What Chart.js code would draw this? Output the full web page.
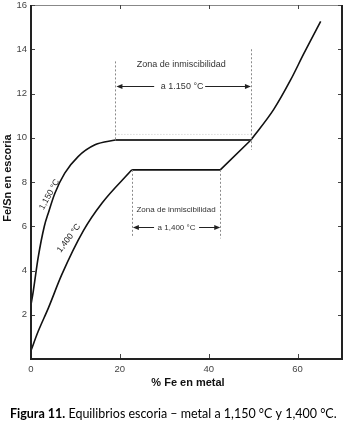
<!DOCTYPE html>
<html>
<head>
<meta charset="utf-8">
<script src="https://cdn.jsdelivr.net/npm/chart.js@4/dist/chart.umd.min.js"></script>
<style>
  html, body { margin: 0; padding: 0; background: #fff; }
  #wrap { position: relative; width: 346px; height: 423px; }
</style>
</head>
<body>
<div id="wrap"><canvas id="chart"></canvas></div>
<script>
// curva a 1.150 °C (subida hasta la meseta)
const x1150 = [0, 0.5, 1.6, 3.0, 3.9, 5.4, 7.6, 10.6, 14.4, 19]
const y1150 = [2.45, 3.05, 4.57, 6.0, 6.6, 7.5, 8.4, 9.15, 9.68, 9.9]
// meseta 1.150 °C
const xPlateau1150 = [19, 49.5]
const yPlateau1150 = [9.9, 9.9]
const yDotted1150 = [10.15, 10.15]
// tramo común final
const xUpper = [49.5, 54.6, 58.4, 61.4, 65.2]
const yUpper = [9.9, 11.27, 12.6, 13.8, 15.26]
// curva a 1.400 °C
const x1400 = [0, 1.6, 3.9, 6.9, 11.8, 16, 22.7]
const y1400 = [0.38, 1.24, 2.3, 3.8, 5.8, 7.05, 8.55]
const xPlateau1400 = [22.7, 42.6, 49.5]
const yPlateau1400 = [8.55, 8.55, 9.9]

const xTicks = [0, 20, 40, 60]
const yTicks = [2, 4, 6, 8, 10, 12, 14, 16]

// zonas de inmiscibilidad: límites en x, alto de las guías y del rótulo
const zone1150X = [19, 49.5]
const zone1150Top = [13.45, 14.0]
const zone1150Bottom = [9.9, 9.45]
const zone1150Arrow = 12.35
const zone1400X = [22.7, 42.6]
const zone1400Bottom = [5.5, 5.45]
const zone1400Arrow = 5.97

const pts = (xs, ys) => xs.map((x, i) => ({ x, y: ys[i] }))

const ARIAL = '"Liberation Sans", Arial, sans-serif'

function arrow(ctx, x1, x2, y) {
  // línea con punta en x2
  const dir = Math.sign(x2 - x1)
  ctx.beginPath()
  ctx.moveTo(x1, y)
  ctx.lineTo(x2 - dir * 4, y)
  ctx.stroke()
  ctx.beginPath()
  ctx.moveTo(x2, y)
  ctx.lineTo(x2 - dir * 6, y - 2.5)
  ctx.lineTo(x2 - dir * 6, y + 2.5)
  ctx.closePath()
  ctx.fill()
}

const decor = {
  id: "decor",
  afterDraw(chart) {
    const { ctx, chartArea: a, scales: { x, y } } = chart
    ctx.save()

    // guías verticales discontinuas
    ctx.strokeStyle = "#8a8a8a"
    ctx.lineWidth = 1
    ctx.setLineDash([2, 2])
    zone1150X.forEach((v, i) => {
      const px = Math.round(x.getPixelForValue(v)) + 0.5
      ctx.beginPath()
      ctx.moveTo(px, y.getPixelForValue(zone1150Top[i]))
      ctx.lineTo(px, y.getPixelForValue(zone1150Bottom[i]))
      ctx.stroke()
    })
    zone1400X.forEach((v, i) => {
      const px = Math.round(x.getPixelForValue(v)) + 0.5
      ctx.beginPath()
      ctx.moveTo(px, y.getPixelForValue(8.55))
      ctx.lineTo(px, y.getPixelForValue(zone1400Bottom[i]))
      ctx.stroke()
    })
    ctx.setLineDash([])

    // flechas y rótulos
    ctx.strokeStyle = "#222"
    ctx.fillStyle = "#222"
    ctx.lineWidth = 1
    let l = x.getPixelForValue(zone1150X[0]), r = x.getPixelForValue(zone1150X[1])
    let yy = Math.round(y.getPixelForValue(zone1150Arrow)) + 0.5
    let cx = (l + r) / 2
    arrow(ctx, cx - 29, l + 1, yy)
    arrow(ctx, cx + 22, r, yy)
    ctx.fillStyle = "#333"
    ctx.textAlign = "center"
    ctx.textBaseline = "middle"
    ctx.font = "9px " + ARIAL
    ctx.fillText("Zona de inmiscibilidad", cx - 2, yy - 21.5)
    ctx.fillText("a 1.150 °C", cx - 1, yy)

    l = x.getPixelForValue(zone1400X[0]); r = x.getPixelForValue(zone1400X[1])
    yy = Math.round(y.getPixelForValue(zone1400Arrow)) + 0.5
    cx = (l + r) / 2
    ctx.fillStyle = "#222"
    arrow(ctx, cx - 22, l + 1, yy)
    arrow(ctx, cx + 23, r, yy)
    ctx.fillStyle = "#333"
    ctx.font = "8px " + ARIAL
    ctx.fillText("Zona de inmiscibilidad", cx, yy - 17.5)
    ctx.fillText("a 1,400 °C", cx + 0.5, yy)

    // rótulos de las curvas, por encima de cada curva
    ctx.font = "8.5px " + ARIAL
    ctx.fillStyle = "#222"
    ctx.textBaseline = "alphabetic"
    ;[["1,150 °C", 5.0, 7.34, -61], ["1,400 °C", 9.3, 5.34, -53]].forEach(([t, vx, vy, ang]) => {
      ctx.save()
      ctx.translate(x.getPixelForValue(vx), y.getPixelForValue(vy))
      ctx.rotate(ang * Math.PI / 180)
      ctx.fillText(t, 0, -2)
      ctx.restore()
    })
    ctx.textBaseline = "middle"

    // marco
    ctx.strokeStyle = "#888"
    ctx.lineWidth = 1
    ctx.beginPath()
    ctx.moveTo(a.left, a.top + 0.5)
    ctx.lineTo(a.right, a.top + 0.5)
    ctx.stroke()
    ctx.strokeStyle = "#222"
    ctx.lineWidth = 2
    ctx.beginPath()
    ctx.moveTo(a.left, a.top)
    ctx.lineTo(a.left, a.bottom)
    ctx.lineTo(a.right, a.bottom)
    ctx.lineTo(a.right, a.top)
    ctx.stroke()

    // marcas hacia dentro
    ctx.lineWidth = 1
    ctx.strokeStyle = "#444"
    xTicks.slice(1).forEach(v => {
      const px = Math.round(x.getPixelForValue(v)) + 0.5
      ctx.beginPath()
      ctx.moveTo(px, a.bottom - 1); ctx.lineTo(px, a.bottom - 5)
      ctx.moveTo(px, a.top); ctx.lineTo(px, a.top + 4)
      ctx.stroke()
    })
    yTicks.forEach(v => {
      const py = Math.round(y.getPixelForValue(v)) + 0.5
      ctx.beginPath()
      ctx.moveTo(a.left + 1, py); ctx.lineTo(a.left + 4, py)
      ctx.moveTo(a.right - 1, py); ctx.lineTo(a.right - 4, py)
      ctx.stroke()
    })

    // etiquetas de los ejes
    ctx.fillStyle = "#444"
    ctx.font = "9.5px " + ARIAL
    ctx.textAlign = "center"
    ctx.textBaseline = "middle"
    xTicks.forEach(v => ctx.fillText(String(v), x.getPixelForValue(v), a.bottom + 10))
    ctx.textAlign = "right"
    yTicks.forEach(v => ctx.fillText(String(v), a.left - 4, y.getPixelForValue(v)))

    ctx.fillStyle = "#111"
    ctx.font = "bold 11px " + ARIAL
    ctx.textAlign = "center"
    ctx.fillText("% Fe en metal", 188, a.bottom + 24)
    ctx.save()
    ctx.translate(8, 178)
    ctx.rotate(-Math.PI / 2)
    ctx.fillText("Fe/Sn en escoria", 0, 0)
    ctx.restore()

    // pie de figura
    const bold = "Figura 11.", rest = " Equilibrios escoria – metal a 1,150 °C y 1,400 °C."
    let size = 14
    ctx.font = "bold " + size + "px Lato, sans-serif"
    let wb = ctx.measureText(bold).width
    ctx.font = size + "px Lato, sans-serif"
    let wr = ctx.measureText(rest).width
    size = size * 327 / (wb + wr)
    ctx.font = "bold " + size + "px Lato, sans-serif"
    wb = ctx.measureText(bold).width
    ctx.textAlign = "left"
    ctx.textBaseline = "alphabetic"
    ctx.fillStyle = "#000"
    ctx.fillText(bold, 10, 418)
    ctx.font = size + "px Lato, sans-serif"
    ctx.fillText(rest, 10 + wb, 418)

    ctx.restore()
  }
}

const line = (data, extra) => Object.assign({
  data,
  borderColor: "#111",
  borderWidth: 1.6,
  pointRadius: 0,
  fill: false
}, extra)

new Chart(document.getElementById("chart"), {
  type: "line",
  data: {
    datasets: [
      line(pts(x1150, y1150), { cubicInterpolationMode: "monotone" }),
      line(pts(xPlateau1150, yPlateau1150), { borderColor: "#333", borderWidth: 2 }),
      line(pts(xPlateau1150, yDotted1150), { borderColor: "#c8c8c8", borderWidth: 1, borderDash: [1, 2] }),
      line(pts(xUpper, yUpper), { cubicInterpolationMode: "monotone" }),
      line(pts(x1400, y1400), { cubicInterpolationMode: "monotone" }),
      line(pts(xPlateau1400, yPlateau1400), { tension: 0 })
    ]
  },
  options: {
    responsive: true,
    maintainAspectRatio: false,
    animation: false,
    layout: { padding: { left: 31, right: 4, top: 5, bottom: 64 } },
    scales: {
      x: { type: "linear", min: 0, max: 70, display: false },
      y: { type: "linear", min: 0, max: 16, display: false }
    },
    plugins: {
      legend: { display: false },
      tooltip: { enabled: false }
    }
  },
  plugins: [decor]
})
</script>
</body>
</html>
